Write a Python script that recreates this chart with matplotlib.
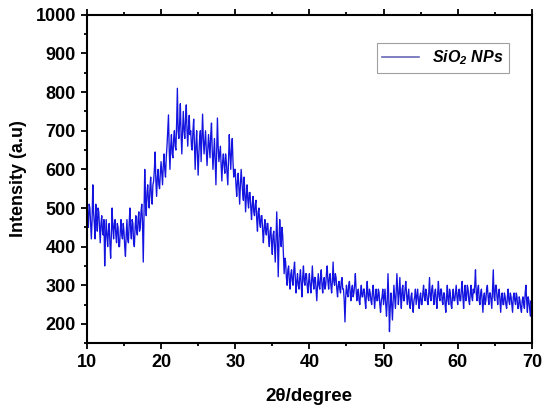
import numpy as np
import matplotlib.pyplot as plt
from matplotlib.ticker import MultipleLocator

plt.rcParams['font.family'] = ['Liberation Sans', 'DejaVu Sans']
# subscript in the legend in the same bold italic face
plt.rcParams['mathtext.fontset'] = 'custom'
plt.rcParams['mathtext.rm'] = 'Liberation Sans:bold:italic'
plt.rcParams['mathtext.it'] = 'Liberation Sans:bold:italic'
plt.rcParams['mathtext.default'] = 'rm'

# intensity, 0.1 degree steps, one list per 10 degrees
int_10_20 = [530, 480, 450, 510, 500, 460, 420, 470, 560, 490,
             460, 420, 510, 470, 440, 500, 490, 450, 410, 460,
             480, 440, 430, 470, 350, 420, 470, 430, 400, 440,
             460, 410, 370, 430, 500, 450, 420, 460, 470, 430,
             410, 460, 450, 400, 400, 440, 470, 430, 420, 460,
             440, 400, 375, 430, 470, 420, 410, 460, 500, 440,
             420, 470, 460, 410, 400, 450, 480, 440, 430, 470,
             490, 440, 450, 490, 510, 460, 360, 480, 600, 520,
             480, 540, 560, 520, 500, 550, 580, 530, 510, 560,
             570, 600, 645, 570, 530, 580, 600, 560, 550, 590]
int_20_30 = [620, 590, 560, 610, 640, 600, 580, 630, 660, 700,
             741, 650, 600, 660, 690, 640, 630, 680, 700, 660,
             650, 720, 810, 700, 680, 720, 770, 690, 640, 700,
             750, 700, 680, 730, 767, 700, 660, 710, 740, 690,
             700, 660, 650, 700, 730, 660, 600, 660, 700, 640,
             585, 640, 680, 700, 620, 680, 743, 680, 640, 670,
             700, 650, 610, 650, 690, 660, 630, 690, 720, 650,
             600, 640, 680, 620, 560, 650, 733, 660, 620, 640,
             660, 610, 570, 620, 640, 610, 590, 640, 620, 590,
             560, 630, 690, 640, 600, 650, 680, 620, 580, 600]
int_30_40 = [600, 560, 530, 570, 590, 550, 510, 560, 600, 570,
             540, 520, 580, 540, 490, 530, 560, 520, 500, 540,
             540, 500, 470, 510, 530, 490, 480, 510, 520, 470,
             440, 490, 500, 460, 450, 480, 480, 440, 410, 450,
             470, 440, 430, 460, 460, 420, 400, 440, 450, 410,
             380, 430, 440, 400, 360, 420, 490, 420, 322, 410,
             470, 430, 400, 450, 430, 380, 330, 370, 360, 320,
             300, 340, 350, 310, 290, 330, 340, 310, 300, 340,
             360, 320, 280, 310, 330, 300, 290, 320, 340, 300,
             270, 320, 350, 310, 300, 330, 330, 300, 280, 310]
int_40_50 = [330, 300, 280, 310, 350, 310, 290, 320, 320, 290,
             260, 300, 330, 300, 290, 320, 340, 300, 280, 310,
             320, 290, 300, 330, 350, 310, 290, 320, 330, 300,
             280, 310, 360, 310, 300, 330, 320, 290, 270, 300,
             310, 290, 280, 310, 320, 290, 290, 260, 205, 270,
             300, 280, 270, 300, 310, 280, 260, 290, 300, 270,
             280, 300, 330, 290, 260, 280, 290, 260, 250, 280,
             300, 270, 270, 290, 290, 260, 240, 280, 310, 270,
             260, 290, 280, 260, 250, 280, 300, 270, 240, 270,
             290, 260, 260, 290, 280, 250, 230, 260, 270, 290]
int_50_60 = [250, 270, 290, 250, 220, 260, 330, 270, 180, 240,
             280, 250, 210, 260, 300, 270, 240, 280, 330, 290,
             250, 280, 320, 270, 240, 290, 300, 260, 260, 290,
             310, 280, 250, 270, 290, 250, 240, 270, 280, 250,
             230, 260, 270, 290, 250, 270, 290, 260, 240, 270,
             280, 250, 250, 280, 300, 270, 260, 290, 280, 260,
             250, 280, 320, 270, 260, 290, 300, 270, 250, 280,
             290, 260, 240, 280, 310, 270, 260, 290, 290, 260,
             250, 280, 280, 250, 230, 270, 300, 260, 250, 290,
             280, 250, 240, 270, 290, 260, 260, 280, 300, 270]
int_60_70 = [250, 280, 290, 260, 260, 290, 310, 270, 240, 280,
             300, 260, 270, 300, 290, 260, 250, 280, 300, 270,
             260, 290, 280, 300, 340, 280, 260, 290, 300, 260,
             250, 280, 290, 260, 230, 270, 280, 250, 260, 290,
             300, 270, 250, 280, 280, 260, 240, 290, 340, 270,
             260, 300, 300, 270, 250, 280, 290, 260, 230, 270,
             280, 250, 250, 280, 270, 250, 240, 270, 290, 260,
             250, 280, 270, 250, 230, 270, 280, 260, 250, 280,
             270, 240, 240, 270, 260, 240, 230, 260, 270, 250,
             240, 280, 300, 260, 230, 270, 260, 240, 220, 260,
             240]

intensity = np.array(int_10_20 + int_20_30 + int_30_40 +
                     int_40_50 + int_50_60 + int_60_70)
two_theta = np.linspace(10, 70, len(intensity))

fig = plt.figure(figsize=(5.5, 4.13), dpi=100)
ax = fig.add_axes([0.158, 0.169, 0.809, 0.795])

ax.plot(two_theta, intensity, color='#1414e0', lw=0.95, label='SiO$_2$ NPs')

ax.set_xlim(10, 70)
ax.set_ylim(150, 1000)
ax.xaxis.set_major_locator(MultipleLocator(10))
ax.xaxis.set_minor_locator(MultipleLocator(5))
ax.yaxis.set_major_locator(MultipleLocator(100))
ax.yaxis.set_minor_locator(MultipleLocator(50))
ax.set_yticks(np.arange(200, 1001, 100))

ax.tick_params(which='both', direction='out', width=1.3, top=True, right=False,
               labelsize=13)
ax.tick_params(which='major', length=4.5)
ax.tick_params(which='minor', length=2.5)
for lbl in ax.get_xticklabels() + ax.get_yticklabels():
    lbl.set_fontweight('bold')
for s in ax.spines.values():
    s.set_linewidth(1.5)

ax.set_xlabel('2θ/degree', fontsize=13.5, fontweight='bold', labelpad=12)
ax.set_ylabel('Intensity (a.u)', fontsize=13, fontweight='bold', labelpad=6)

leg = ax.legend(loc='upper right', bbox_to_anchor=(0.948, 0.915), fancybox=False,
                prop={'size': 11.5, 'weight': 'bold', 'style': 'italic'},
                handlelength=2.3, borderpad=0.35, borderaxespad=0)
leg.get_frame().set_edgecolor('#888888')
leg.get_frame().set_linewidth(0.8)
leg.get_lines()[0].set_color('#6a6ab8')
leg.get_lines()[0].set_linewidth(1.2)

fig.savefig('out.png', dpi=100)
